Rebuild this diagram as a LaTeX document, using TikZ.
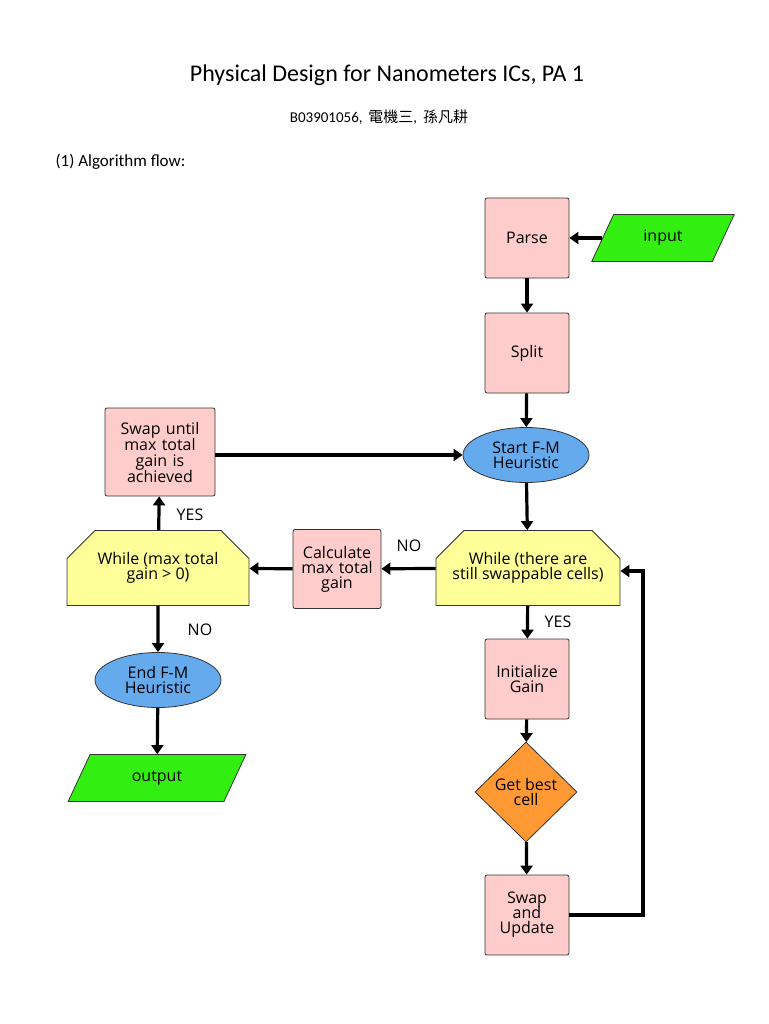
\documentclass[tikz,border=0pt]{standalone}
\usepackage{fontspec}
\setmainfont{Carlito}
\newfontfamily\cjk{Noto Sans CJK TC}
\newfontfamily\boxf{Open Sans}
\usetikzlibrary{shapes.geometric,shapes.misc,arrows.meta}
\definecolor{pinkf}{HTML}{FFCCCC}
\definecolor{bluef}{HTML}{66AAEE}
\definecolor{yelf}{HTML}{FFFF99}
\definecolor{orf}{HTML}{FF9933}
\definecolor{grf}{HTML}{33EE11}
\begin{document}
\begin{tikzpicture}[x=1pt,y=-1pt,
 base/.style={draw=black!80,line width=0.8pt,align=center,font=\boxf\fontsize{16}{18}\selectfont,inner sep=2pt},
 box/.style={base,fill=pinkf,rectangle,rounded corners=2pt,minimum width=84pt,minimum height=80pt,text width=80pt},
 ell/.style={base,fill=bluef,ellipse,minimum width=126pt,minimum height=55pt,inner sep=0pt},
 wh/.style={base,fill=yelf,chamfered rectangle,chamfered rectangle corners={north west,north east},chamfered rectangle xsep=14pt,chamfered rectangle ysep=14pt,minimum width=184pt,minimum height=75pt,inner sep=0pt},
 io/.style={base,fill=grf,trapezium,trapezium left angle=65,trapezium right angle=115,minimum width=0pt,minimum height=47pt,inner xsep=1pt,inner ysep=2pt},
 ar/.style={line width=3.2pt,-{Triangle[length=9pt,width=12pt]}},
 lab/.style={font=\boxf\fontsize{16}{18}\selectfont}]
\useasboundingbox (0,0) rectangle (768,1024);
\node[font=\fontsize{24}{28}\selectfont] (title) at (387,75) {Physical Design for Nanometers ICs, PA 1};
\node[font=\fontsize{15}{17}\selectfont] (sub) at (379,117) {B03901056,\, {\cjk 電機三},\, {\cjk 孫凡耕}};
\node[font=\fontsize{17}{19}\selectfont,anchor=west] (sec) at (52,162) {(1) Algorithm flow:};

\node[box] (parse) at (527,238) {Parse};
\node[io] (input) at (663,238) {input};
\node[box] (split) at (527,353) {Split};
\node[ell] (start) at (526,455) {Start F-M\\[-3pt]Heuristic};
\node[box,minimum width=110pt,minimum height=88pt,text width=106pt] (swapu) at (160,452) {Swap until\\[-2pt]max total\\[-2pt]gain is\\[-2pt]achieved};
\node[wh] (whr) at (528,568) {While (there are\\[-3pt]still swappable cells)};
\node[box,minimum width=88pt,minimum height=79pt] (calc) at (337,569) {Calculate\\[-3pt]max total\\[-3pt]gain};
\node[wh,minimum width=182pt] (whl) at (158,568) {While (max total\\[-3pt]gain > 0)};
\node[box] (init) at (527,679) {Initialize\\[-3pt]Gain};
\node[base,fill=orf,diamond,minimum width=102pt,minimum height=100pt,inner sep=0pt,aspect=1] (best) at (526,792) {Get best\\[-3pt]cell};
\node[box] (upd) at (527,915) {Swap\\[-3pt]and\\[-3pt]Update};
\node[ell] (end) at (158,680) {End F-M\\[-3pt]Heuristic};
\node[io] (output) at (157,778) {output};
\coordinate (c1) at (643,915);
\coordinate (c2) at (643,571);

\draw[ar] (input) -- (parse);
\draw[ar] (parse) -- (split);
\draw[ar] (split) -- (start);
\draw[ar] (swapu.east|-start) -- (start);
\draw[ar] (start) -- (whr);
\draw[ar] (whr) -- (calc);
\draw[ar] (calc) -- (whl);
\draw[ar] (whl) -- (swapu);
\draw[ar] (whl) -- (end);
\draw[ar] (end) -- (output);
\draw[ar] (whr) -- (init);
\draw[ar] (init) -- (best);
\draw[ar] (best) -- (upd);
\draw[ar] (upd.east) -- (c1) -- (c2) -- (whr.east|-c2);
\node[lab] (no1) at (409,546) {NO};
\node[lab] (yes1) at (190,515) {YES};
\node[lab] (no2) at (200,630) {NO};
\node[lab] (yes2) at (558,622) {YES};
\end{tikzpicture}
\end{document}
